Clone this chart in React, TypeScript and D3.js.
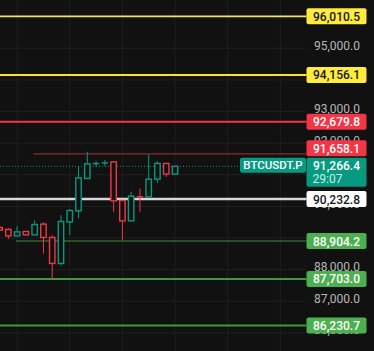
import React from "react";
import * as d3 from "d3";

const W = 374;
const H = 351;

// Candles (index 0 is partially cut off at the left edge)
const opens = [89332, 89269, 89066, 89206, 89098, 89437, 89016, 88193, 89509, 89858, 90883, 91350, 91370, 91408, 90187, 89541, 90310, 90301, 90861, 91358, 91019];
const highs = [89373, 89310, 89373, 89220, 89563, 89500, 89089, 89722, 89911, 91250, 91725, 91440, 91462, 91420, 90187, 90459, 90566, 91646, 91430, 91358, 91266.4];
const lows = [89215, 88965, 89066, 89090, 89098, 88509, 87712, 88139, 89089, 89617, 90883, 91250, 91272, 89826, 88930, 89541, 89826, 90301, 90743, 90934, 91019];
const closes = [89247, 89066, 89193, 89098, 89427, 89016, 88193, 89522, 89870, 90902, 91345, 91360, 91380, 90174, 89541, 90323, 90295, 90861, 91358, 91019, 91266.4];

// price ticks that are visible (others are covered by price labels)
const priceTicks = [86000, 87000, 88000, 90000, 92000, 93000, 94000, 95000];
const gridPrices = [86000, 87000, 88000, 89000, 90000, 91000, 92000, 93000, 94000, 95000, 96000];
const timeGridIdx = [2, 8, 14, 20, 26, 32];

type Level = { price: number; kind: string; start: number };
const levelPrices = [96010.5, 94156.1, 92679.8, 91658.1, 90232.8, 88904.2, 87703.0, 86230.7];
const levelKinds = ["yellowThin", "yellow", "red", "redThin", "white", "greenThin", "green", "green"];
const levelStarts = [-1, -1, -1, 4, -1, 2, -1, -1]; // candle index where line starts (-1 = left edge)

const currentPrice = 91266.4;
const symbol = "BTCUSDT.P";
const countdown = "29:07";

const RED = "#f23645";
const TEAL = "#089981";
const GREEN = "#4caf50";
const YELLOW = "#ffeb3b";

const styles: Record<string, { line: string; width: number; bg: string; fg: string }> = {
  yellowThin: { line: "#f7e36a", width: 1.6, bg: YELLOW, fg: "#131722" },
  yellow: { line: "#ffe51f", width: 2, bg: YELLOW, fg: "#131722" },
  red: { line: RED, width: 2, bg: RED, fg: "#ffffff" },
  redThin: { line: "#8a2a31", width: 1.2, bg: RED, fg: "#ffffff" },
  white: { line: "#d8d8d8", width: 2.5, bg: "#ffffff", fg: "#131722" },
  greenThin: { line: "#3f8f43", width: 1.2, bg: GREEN, fg: "#ffffff" },
  green: { line: "#3d9a41", width: 2, bg: GREEN, fg: "#ffffff" },
};

const fmt = (v: number) => d3.format(",.1f")(v);

export default function App() {
  const y = d3.scaleLinear().domain([87000, 95000]).range([301.2, 48.3]);
  const x = d3.scaleLinear().domain([0, 20]).range([-0.4, 175]);
  const axisX = 306.5;
  const labelW = 60;
  const labelH = 16;
  const font = "Roboto, 'Noto Sans', sans-serif";

  const curY = y(currentPrice);
  const curTop = curY - 8.6;
  const curH = 29;

  const levels: Level[] = levelPrices.map((p, i) => ({ price: p, kind: levelKinds[i], start: levelStarts[i] }));

  const bodyW = 6.4;

  return (
    <svg width={W} height={H} style={{ position: "fixed", left: 0, top: 0, display: "block" }} fontFamily={font}>
      <rect x={0} y={0} width={W} height={H} fill="#111111" />
      {/* grid */}
      {gridPrices.map((t) => (
        <line key={"h" + t} x1={0} x2={axisX} y1={y(t)} y2={y(t)} stroke="#1f1f1f" strokeWidth={1} />
      ))}
      {timeGridIdx.map((i) => (
        <line key={"v" + i} x1={x(i)} x2={x(i)} y1={0} y2={H} stroke="#1f1f1f" strokeWidth={1} />
      ))}
      {/* tick labels */}
      {priceTicks.map((t) => (
        <text key={"t" + t} x={337} y={y(t) - 2.5} fill="#b8b8b8" fontSize={12} textAnchor="middle" dominantBaseline="central">
          {fmt(t)}
        </text>
      ))}
      {/* current price dotted line */}
      <line x1={0} x2={240} y1={curY} y2={curY} stroke={TEAL} strokeWidth={1} strokeDasharray="1 2" />
      {/* level lines */}
      {levels.map((l) => {
        const s = styles[l.kind];
        const x1 = l.start < 0 ? 0 : x(l.start) - 1.2;
        return <line key={"l" + l.price} x1={x1} x2={axisX} y1={y(l.price)} y2={y(l.price)} stroke={s.line} strokeWidth={s.width} />;
      })}
      {/* candles */}
      {opens.map((o, i) => {
        const c = closes[i];
        const up = c >= o;
        const col = up ? TEAL : RED;
        const cx = x(i);
        const top = y(Math.max(o, c));
        const bot = y(Math.min(o, c));
        const bh = Math.max(bot - top, 0.5);
        return (
          <g key={"c" + i}>
            <line x1={cx} x2={cx} y1={y(highs[i])} y2={top} stroke={col} strokeWidth={1} />
            <line x1={cx} x2={cx} y1={bot} y2={y(lows[i])} stroke={col} strokeWidth={1} />
            {bh < 1.5 ? (
              <line x1={cx - bodyW / 2} x2={cx + bodyW / 2} y1={(top + bot) / 2} y2={(top + bot) / 2} stroke={col} strokeWidth={1.5} />
            ) : (
              <rect x={cx - bodyW / 2 + 0.5} y={top} width={bodyW - 1} height={bh} fill="#111111" stroke={col} strokeWidth={1.4} />
            )}
          </g>
        );
      })}
      {/* level labels */}
      {levels.map((l) => {
        const s = styles[l.kind];
        let cy = y(l.price);
        if (cy + labelH / 2 > curTop && cy - labelH / 2 < curTop + curH) {
          cy = curTop - 1.5 - labelH / 2;
        }
        return (
          <g key={"lb" + l.price}>
            <rect x={axisX} y={cy - labelH / 2} width={labelW} height={labelH} rx={2} fill={s.bg} />
            <text x={axisX + labelW / 2} y={cy + 0.5} fill={s.fg} fontSize={12} fontWeight={500} textAnchor="middle" dominantBaseline="central">
              {fmt(l.price)}
            </text>
          </g>
        );
      })}
      {/* current price label */}
      <rect x={axisX} y={curTop} width={labelW} height={curH} rx={2} fill={TEAL} />
      <text x={axisX + labelW / 2} y={curY} fill="#ffffff" fontSize={12} fontWeight={500} textAnchor="middle" dominantBaseline="central">
        {fmt(currentPrice)}
      </text>
      <text x={axisX + labelW / 2 - 9} y={curY + 12.8} fill="#c9eee6" fontSize={12} textAnchor="middle" dominantBaseline="central">
        {countdown}
      </text>
      {/* symbol label */}
      <rect x={240} y={curTop} width={66} height={15} rx={2} fill={TEAL} />
      <text x={273} y={curY - 1} fill="#ffffff" fontSize={11.5} fontWeight={500} textAnchor="middle" dominantBaseline="central">
        {symbol}
      </text>
    </svg>
  );
}
